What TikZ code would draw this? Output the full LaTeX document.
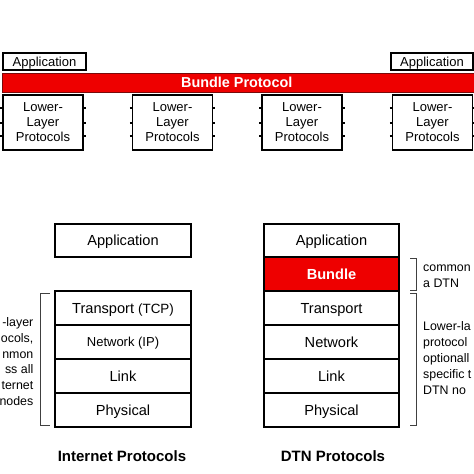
\documentclass[tikz,border=0pt]{standalone}
\usepackage{fontspec}
\setmainfont{Liberation Sans}
\definecolor{bred}{RGB}{238,0,0}
\definecolor{bedge}{RGB}{120,10,10}
\begin{document}
\begin{tikzpicture}[x=1pt,y=-1pt,
  box/.style={draw=black,line width=1.6pt,fill=white,inner sep=0pt,align=center},
  topbox/.style={box,minimum width=83pt,minimum height=17pt,text depth=0pt,font=\fontsize{13}{15}\selectfont},
  lowbox/.style={box,minimum width=80pt,minimum height=55pt,font=\fontsize{13}{15}\selectfont},
  layer/.style={box,line width=2pt,minimum width=135.5pt,minimum height=33.9pt,text depth=0pt,font=\fontsize{14.6}{16}\selectfont},
  redlayer/.style={layer,fill=bred,text=white,font=\fontsize{14.6}{16}\selectfont\bfseries},
  bar/.style={draw=bedge,line width=1pt,fill=bred,text=white,inner sep=0pt,minimum width=476pt,minimum height=19pt,font=\fontsize{14.4}{16}\selectfont\bfseries},
  note/.style={inner sep=0pt,font=\fontsize{12.4}{15.8}\selectfont},
  caption/.style={inner sep=0pt,font=\fontsize{15}{17}\selectfont\bfseries},
  brk/.style={draw=black!75,line width=1pt},
  tick/.style={draw=black,line width=1.2pt}]
\useasboundingbox (0,0) rectangle (474,474);
\clip (0,0) rectangle (474,474);
\fill[white] (0,0) rectangle (474,474);
% top part
\node[bar] (bp) at (240,82.5) {\hspace*{-6.5pt}Bundle Protocol};
\node[topbox] (appL) at (44.5,61.5) {Application};
\node[topbox,minimum width=82pt] (appR) at (432,61.5) {Application};
\foreach \n/\x in {l1/43,l2/172.5,l3/302,l4/432.5}{
  \node[lowbox] (\n) at (\x,122.5) {Lower-\\Layer\\Protocols};
  \foreach \yy in {108,123,136}{
    \draw[tick] ([xshift=-1.8pt]\n.west |- 0,\yy) -- ([xshift=0.6pt]\n.west |- 0,\yy);
    \draw[tick] ([xshift=-0.6pt]\n.east |- 0,\yy) -- ([xshift=1.8pt]\n.east |- 0,\yy);
  }
}
% Internet stack
\node[layer,minimum width=136pt] (iapp) at (123,240.45) {Application};
\node[layer,minimum width=136pt] (itr) at (123,308.25) {Transport {\fontsize{13.4}{15}\selectfont(TCP)}};
\node[layer,minimum width=136pt,font=\fontsize{13}{15}\selectfont] (inet) at (123,342.15) {Network (IP)};
\node[layer,minimum width=136pt] (ilink) at (123,376.05) {Link};
\node[layer,minimum width=136pt] (iphy) at (123,409.95) {Physical};
\node[caption] (icap) at (122,456) {Internet Protocols};
% DTN stack
\node[layer] (dapp) at (331.5,240.45) {Application};
\node[redlayer] (dbun) at (331.5,274.35) {Bundle};
\node[layer] (dtr) at (331.5,308.25) {Transport};
\node[layer] (dnet) at (331.5,342.15) {Network};
\node[layer] (dlink) at (331.5,376.05) {Link};
\node[layer] (dphy) at (331.5,409.95) {Physical};
\node[caption] (dcap) at (333,456) {DTN Protocols};
% brackets
\draw[brk] (50,293) -- (40,293) -- (40,425) -- (50,425);
\draw[brk] (410,258.5) -- (416,258.5) -- (416,290) -- (410,290);
\draw[brk] (410,293) -- (416,293) -- (416,425) -- (410,425);
% notes (only the parts that the cropped picture shows)
\node[note,anchor=east,align=right] (lnote) at (33.5,361.5) {-layer\\ocols,\\nmon\\ss all\\ternet\\nodes};
\node[note,anchor=west,align=left] (cnote) at (423,276.5) {common\\a DTN};
\node[note,anchor=west,align=left] (rnote) at (423,358) {Lower-la\\protocol\\optionall\\specific t\\DTN no};
\end{tikzpicture}
\end{document}
